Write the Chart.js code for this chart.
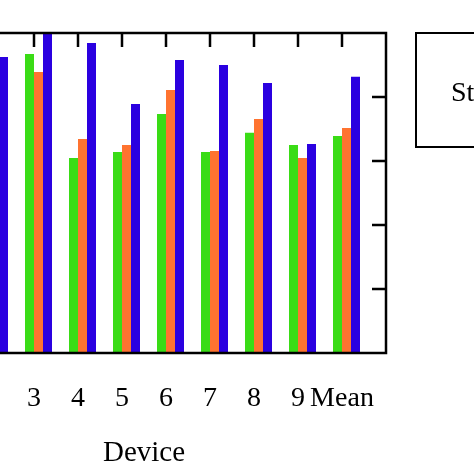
<!DOCTYPE html>
<html>
<head>
<meta charset="utf-8">
<script src="https://cdn.jsdelivr.net/npm/chart.js@4"></script>
<style>
  html, body { margin: 0; padding: 0; background: #fff; overflow: hidden; width: 474px; height: 474px; }
  #wrap { position: absolute; left: -140px; top: 0; width: 740px; height: 474px; }
</style>
</head>
<body>
<div id="wrap"><canvas id="chart"></canvas></div>
<script>
// categories (empty slots at both ends keep the axis running 0..11)
const devices = ['', '1', '2', '3', '4', '5', '6', '7', '8', '9', 'Mean', ''];
const greenVals  = [null, 58, 64, 93.4, 60.9, 62.8, 74.7, 62.8, 68.8, 65.0, 67.8, null];
const orangeVals = [null, 65, 69, 87.8, 66.9, 65.0, 82.2, 63.1, 73.1, 60.9, 70.3, null];
const blueVals   = [null, 78, 92.5, 100, 96.9, 77.8, 91.6, 90.0, 84.4, 65.3, 86.3, null];
const yTicks = [0, 20, 40, 60, 80, 100];
const legendText = 'Standard';

const serif = "'Liberation Serif', 'DejaVu Serif', serif";

// frame, inward ticks and the legend box
const framePlugin = {
  id: 'frame',
  beforeDatasetsDraw(chart) {
    const { ctx, chartArea: { left, top, right, bottom }, scales: { x, y } } = chart;
    ctx.save();
    ctx.strokeStyle = '#000';
    ctx.lineWidth = 2.5;
    ctx.beginPath();
    for (let i = 1; i < devices.length - 1; i++) {
      const px = x.getPixelForValue(i);
      ctx.moveTo(px, top); ctx.lineTo(px, top + 14);
      ctx.moveTo(px, bottom); ctx.lineTo(px, bottom - 14);
    }
    yTicks.slice(1, -1).forEach(v => {
      const py = y.getPixelForValue(v);
      ctx.moveTo(left, py); ctx.lineTo(left + 14, py);
      ctx.moveTo(right, py); ctx.lineTo(right - 14, py);
    });
    ctx.stroke();
    ctx.restore();
  },
  afterDatasetsDraw(chart) {
    const { ctx, chartArea: { left, top, right, bottom } } = chart;
    ctx.save();
    ctx.strokeStyle = '#000';
    ctx.lineWidth = 2.5;
    ctx.strokeRect(left, top, right - left, bottom - top);
    // legend box (runs off the right edge)
    ctx.lineWidth = 2;
    ctx.strokeRect(right + 30, top, 300, 114);
    ctx.fillStyle = '#000';
    ctx.font = '28px ' + serif;
    ctx.textBaseline = 'middle';
    ctx.fillText(legendText, right + 65, top + 61);
    ctx.restore();
  }
};

new Chart(document.getElementById('chart'), {
  type: 'bar',
  data: {
    labels: devices,
    datasets: [
      { label: '', data: devices.map(() => null), backgroundColor: 'rgba(0,0,0,0)' }, // spacer slot
      { label: 'green', data: greenVals, backgroundColor: '#3ADC16' },
      { label: 'orange', data: orangeVals, backgroundColor: '#FF7330' },
      { label: 'blue', data: blueVals, backgroundColor: '#2A00E0' }
    ]
  },
  options: {
    responsive: true,
    maintainAspectRatio: false,
    animation: false,
    categoryPercentage: 36 / 44,
    barPercentage: 1,
    layout: { padding: { top: 33, right: 214, left: 0, bottom: 0 } },
    plugins: {
      legend: { display: false },
      tooltip: { enabled: false }
    },
    scales: {
      x: {
        offset: false,
        grid: { display: false, drawTicks: false },
        border: { display: false },
        ticks: {
          color: '#000',
          font: { family: serif, size: 28 },
          padding: 29,
          autoSkip: false,
          maxRotation: 0
        },
        title: {
          display: true,
          text: 'Device',
          color: '#000',
          font: { family: serif, size: 29 },
          padding: { top: 0, bottom: 3 }
        },
        afterFit(s) { s.height = 121; }
      },
      y: {
        min: 0,
        max: 100,
        grid: { display: false, drawTicks: false },
        border: { display: false },
        ticks: { display: false, stepSize: 20 },
        afterFit(s) { s.width = 42; }
      }
    }
  },
  plugins: [framePlugin]
});
</script>
</body>
</html>
